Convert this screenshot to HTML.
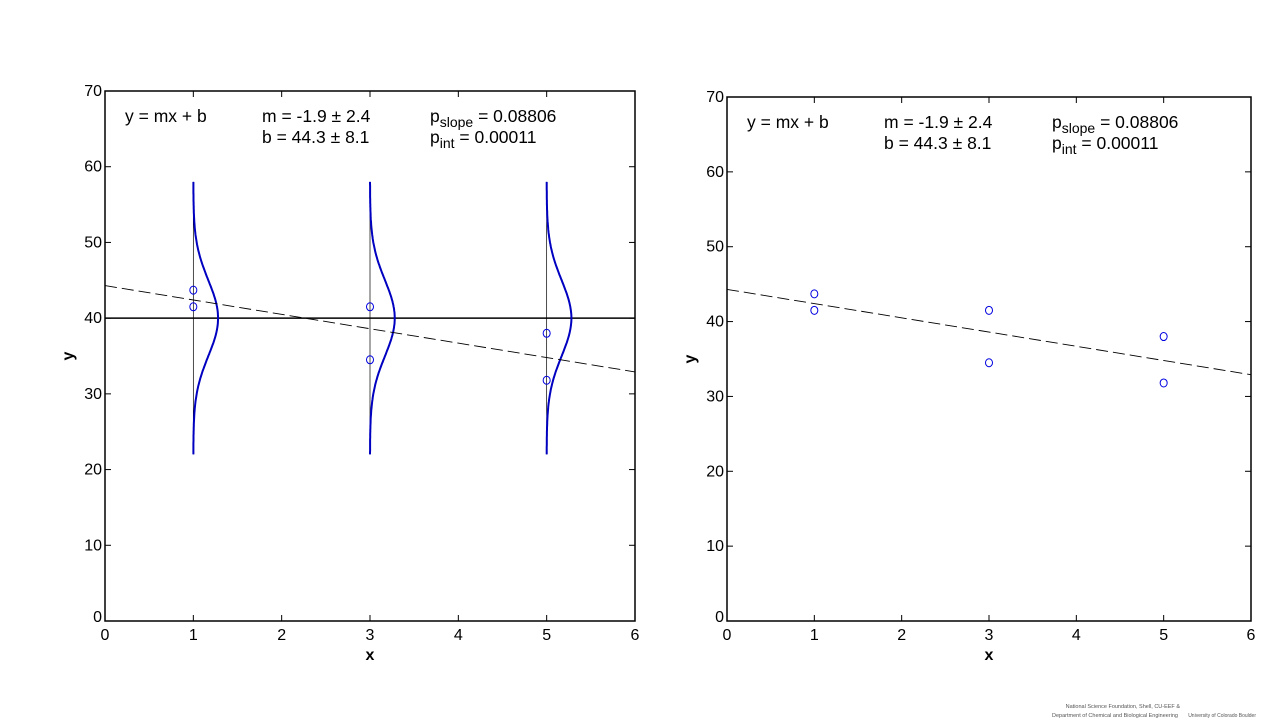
<!DOCTYPE html>
<html><head><meta charset="utf-8"><style>
body{margin:0;background:#fff;width:1280px;height:720px;overflow:hidden;font-family:"Liberation Sans",Arial,sans-serif}
svg text{font-family:"Liberation Sans",Arial,sans-serif}
</style></head><body>
<svg id="s" width="1280" height="720">
<g>
<text x="1180" y="708" font-size="5.5" fill="#555" text-anchor="end">National Science Foundation, Shell, CU-EEF &amp;</text>
<text x="1178" y="717" font-size="5.5" fill="#555" text-anchor="end">Department of Chemical and Biological Engineering</text>
<text x="1256" y="717" font-size="5" fill="#555" text-anchor="end">University of Colorado Boulder</text>
</g>
</svg>
<script>
const xData=[1,1,3,3,5,5];
const yData=[43.7,41.5,41.5,34.5,38,31.8];
const fitM=-1.9, fitB=44.3;
const groupX=[1,3,5];
const hLine=40;
const xTicks=[0,1,2,3,4,5,6];
const yTicks=[0,10,20,30,40,50,60,70];
const NS="http://www.w3.org/2000/svg";
const svg=document.getElementById('s');
function el(tag,attrs,parent){const e=document.createElementNS(NS,tag);for(const k in attrs)e.setAttribute(k,attrs[k]);(parent||svg).appendChild(e);return e;}
function panel(L,R,T,B,withCurves,name){
 const g=el('g',{});
 
 
 const sx=v=>L+(v-0)/6*(R-L), sy=v=>B-(v/70)*(B-T);
 const cp='c'+name;
 const clip=el('clipPath',{id:cp},g);el('rect',{x:L,y:T,width:R-L,height:B-T},clip);
 const box=el('rect',{x:L,y:T,width:R-L,height:B-T,fill:'none',stroke:'#000','stroke-width':1.5},g);
 
 xTicks.forEach(t=>{
  el('line',{x1:sx(t),x2:sx(t),y1:B,y2:B-6,stroke:'#000'},g);
  el('line',{x1:sx(t),x2:sx(t),y1:T,y2:T+6,stroke:'#000'},g);
  const tx=el('text',{x:sx(t),y:B+19,'font-size':16,'text-anchor':'middle'},g);tx.textContent=t;
  
 });
 yTicks.forEach(t=>{
  el('line',{x1:L,x2:L+6,y1:sy(t),y2:sy(t),stroke:'#000'},g);
  el('line',{x1:R,x2:R-6,y1:sy(t),y2:sy(t),stroke:'#000'},g);
  const tx=el('text',{x:L-3,y:sy(t)+(t==0?1:5),'font-size':16,'text-anchor':'end'},g);tx.textContent=t;
  
 });
 const xl=el('text',{x:(L+R)/2,y:B+39,'font-size':16,'font-weight':'bold','text-anchor':'middle'},g);xl.textContent='x';
 
 const yl=el('text',{x:0,y:0,'font-size':16,'font-weight':'bold','text-anchor':'middle',transform:`translate(${L-32},${(T+B)/2}) rotate(-90)`},g);yl.textContent='y';
 
 const cg=el('g',{'clip-path':`url(#${cp})`},g);
 if(withCurves){
  const hl=el('line',{x1:L,x2:R,y1:sy(hLine),y2:sy(hLine),stroke:'#000','stroke-width':1.5},cg);
  
  groupX.forEach(gx=>{
   const vl=el('line',{x1:sx(gx),x2:sx(gx),y1:sy(22),y2:sy(58),stroke:'#000','stroke-width':0.7},cg);
   
   let d='';for(let y=22;y<=58.001;y+=0.25){const xx=gx+0.28*Math.exp(-((y-hLine)**2)/(2*25));d+=(d?'L':'M')+sx(xx).toFixed(1)+','+sy(y).toFixed(1);}
   const p=el('path',{d,fill:'none',stroke:'#0000c0','stroke-width':2},cg);
   
  });
 }
 const fl=el('line',{x1:sx(0),y1:sy(fitB),x2:sx(6),y2:sy(fitB+fitM*6),stroke:'#000','stroke-dasharray':'12,5','stroke-width':0.9},cg);
 
 xData.forEach((x,i)=>{
  const c=el('ellipse',{cx:sx(x),cy:sy(yData[i]),rx:3.5,ry:4,fill:'none',stroke:'#0000e0','stroke-width':1},cg);
  
 });
 const ann=el('g',{'font-size':17.5},g);
 
 const o=L+20,ty=T+31;
 el('text',{x:o,y:ty},ann).textContent='y = mx + b';
 el('text',{x:o+137,y:ty},ann).textContent='m = -1.9 ± 2.4';
 el('text',{x:o+137,y:ty+21},ann).textContent='b = 44.3 ± 8.1';
 const p1=el('text',{x:o+305,y:ty},ann);p1.innerHTML='p<tspan font-size="14" dy="5">slope</tspan><tspan dy="-5"> = 0.08806</tspan>';
 const p2=el('text',{x:o+305,y:ty+21},ann);p2.innerHTML='p<tspan font-size="14" dy="5">int</tspan><tspan dy="-5"> = 0.00011</tspan>';
}
panel(105,635,91,621,true,'left-panel');
panel(727,1251,97,621,false,'right-panel');
</script>
</body></html>
